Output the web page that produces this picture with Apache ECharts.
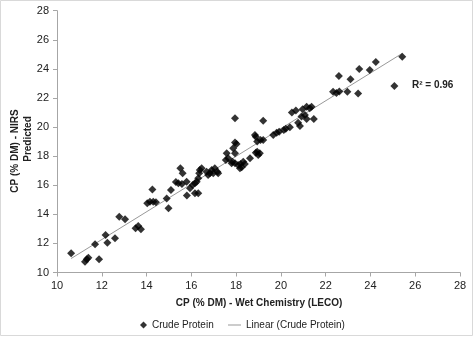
<!DOCTYPE html>
<html>
<head>
<meta charset="utf-8">
<script src="https://cdn.jsdelivr.net/npm/echarts@6/dist/echarts.min.js"></script>
<style>
  html, body { margin: 0; padding: 0; background: #fff; }
  #chart { width: 474px; height: 338px; }
</style>
</head>
<body>
<div id="chart"></div>
<script>
// Wet chemistry (LECO) CP values, % DM
const wetChem = [
  10.63, 11.25, 11.33, 11.40, 11.88, 11.70, 12.17, 12.25, 12.59, 12.78,
  13.04, 13.51, 13.63, 13.75, 14.03, 14.15, 14.30, 14.42, 14.26, 14.90,
  14.98, 15.09, 15.31, 15.42, 15.51, 15.61, 15.58, 15.79, 15.80, 15.94,
  16.06, 16.16, 16.24, 16.31, 16.35, 16.38, 16.46, 16.16, 16.31, 16.68,
  16.75, 16.83, 16.91, 16.98, 17.05, 17.16, 17.20, 17.58, 17.65, 17.54,
  17.80, 17.87, 17.95, 18.02, 17.95, 17.84, 17.95, 18.09, 18.20, 18.32,
  18.39, 18.25, 18.17, 17.95, 18.62, 18.88, 18.94, 18.99, 19.06, 19.09,
  18.84, 18.88, 18.94, 19.21, 19.21, 19.66, 19.81, 19.92, 20.13, 20.22,
  20.40, 20.85, 20.77, 20.49, 20.67, 20.92, 20.97, 21.15, 21.29, 21.37,
  21.07, 21.15, 21.47, 22.33, 22.48, 22.61, 22.97, 23.45, 22.59, 23.11,
  23.50, 23.97, 24.24, 25.42, 25.07
];
// NIRS predicted CP values, % DM
const nirsPred = [
  11.32, 10.74, 10.91, 11.02, 10.91, 11.94, 12.58, 12.05, 12.35, 13.84,
  13.66, 13.04, 13.20, 12.97, 14.76, 14.87, 14.87, 14.83, 15.71, 15.09,
  14.42, 15.67, 16.22, 16.13, 17.17, 16.82, 16.09, 16.24, 15.30, 15.79,
  16.02, 16.13, 16.24, 16.48, 16.82, 17.05, 17.17, 15.45, 15.45, 16.93,
  16.71, 16.82, 17.05, 16.82, 17.17, 16.93, 16.82, 18.20, 17.85, 17.74,
  17.51, 18.54, 18.93, 18.84, 18.20, 17.62, 17.51, 17.39, 17.46, 17.62,
  17.46, 17.24, 17.17, 20.61, 17.85, 18.24, 18.31, 18.08, 18.20, 19.11,
  19.46, 19.34, 19.00, 19.11, 20.44, 19.46, 19.61, 19.68, 19.80, 19.89,
  19.99, 20.08, 20.30, 21.00, 21.14, 20.72, 21.22, 21.40, 21.29, 21.40,
  20.83, 20.56, 20.56, 22.43, 22.35, 22.45, 22.43, 22.31, 23.51, 23.29,
  24.00, 23.93, 24.48, 24.84, 22.83
];
const xTicks = [10, 12, 14, 16, 18, 20, 22, 24, 26, 28];
const yTicks = [10, 12, 14, 16, 18, 20, 22, 24, 26, 28];
const seriesName = 'Crude Protein';
const trendName = 'Linear (Crude Protein)';
const r2Label = 'R\u00b2 = 0.96';
const xTitle = 'CP (% DM) - Wet Chemistry (LECO)';
const yTitle1 = 'CP (% DM) - NIRS';
const yTitle2 = 'Predicted';

const points = wetChem.map((x, i) => [x, nirsPred[i]]);

// least-squares linear trend
const n = points.length;
let sx = 0, sy = 0, sxx = 0, sxy = 0;
points.forEach(([x, y]) => { sx += x; sy += y; sxx += x * x; sxy += x * y; });
const slope = (n * sxy - sx * sy) / (n * sxx - sx * sx);
const intercept = (sy - slope * sx) / n;
const xMin = Math.min(...wetChem), xMax = Math.max(...wetChem);
const trend = [[xMin, intercept + slope * xMin], [xMax, intercept + slope * xMax]];

const font = '"Liberation Sans", Arial, sans-serif';
const textColor = '#222';
const axisColor = '#a6a6a6';

const chart = echarts.init(document.getElementById('chart'), null, { renderer: 'canvas' });
chart.setOption({
  animation: false,
  backgroundColor: '#fff',
  textStyle: { fontFamily: font },
  grid: { left: 57, right: 14, top: 10.7, bottom: 65.5, containLabel: false },
  xAxis: {
    type: 'value', min: xTicks[0], max: xTicks[xTicks.length - 1], interval: 2,
    axisLine: { show: true, onZero: false, lineStyle: { color: axisColor, width: 1 } },
    axisTick: { show: true, length: 4, lineStyle: { color: axisColor } },
    axisLabel: { color: textColor, fontSize: 11, fontFamily: font, margin: 8 },
    splitLine: { show: false }
  },
  yAxis: {
    type: 'value', min: yTicks[0], max: yTicks[yTicks.length - 1], interval: 2,
    axisLine: { show: true, onZero: false, lineStyle: { color: axisColor, width: 1 } },
    axisTick: { show: true, length: 4, lineStyle: { color: axisColor } },
    axisLabel: { color: textColor, fontSize: 11, fontFamily: font, margin: 8 },
    splitLine: { show: false }
  },
  legend: [
    {
      data: [{ name: seriesName, icon: 'diamond' }],
      left: 140, top: 320, padding: 0,
      itemWidth: 7, itemHeight: 7,
      textStyle: { color: textColor, fontSize: 10, fontFamily: font }
    },
    {
      data: [{ name: trendName, icon: 'rect', itemStyle: { color: '#999' } }],
      left: 228, top: 320, padding: 0,
      itemWidth: 13, itemHeight: 1,
      textStyle: { color: textColor, fontSize: 10, fontFamily: font }
    }
  ],
  graphic: [
    {
      type: 'rect', silent: true,
      shape: { x: 0.5, y: 0.5, width: 472, height: 335 },
      style: { fill: 'none', stroke: '#d9d9d9', lineWidth: 1 }
    },
    {
      type: 'text', x: 259, y: 303,
      style: { text: xTitle, fill: textColor, font: 'bold 10px ' + font, align: 'center', verticalAlign: 'middle' }
    },
    {
      type: 'text', x: 15, y: 151, rotation: Math.PI / 2,
      style: { text: yTitle1, fill: textColor, font: 'bold 10px ' + font, align: 'center', verticalAlign: 'middle' }
    },
    {
      type: 'text', x: 28, y: 139, rotation: Math.PI / 2,
      style: { text: yTitle2, fill: textColor, font: 'bold 10px ' + font, align: 'center', verticalAlign: 'middle' }
    },
    {
      type: 'text', x: 412, y: 85,
      style: { text: r2Label, fill: textColor, font: 'bold 10px ' + font, verticalAlign: 'middle' }
    }
  ],
  series: [
    {
      name: trendName, type: 'line', data: trend,
      symbol: 'none', lineStyle: { color: '#999', width: 1 },
      itemStyle: { color: '#999' }, z: 1, silent: true
    },
    {
      name: seriesName, type: 'scatter', data: points,
      symbol: 'diamond', symbolSize: 8,
      itemStyle: { color: '#000' }, z: 2
    }
  ]
});
</script>
</body>
</html>
